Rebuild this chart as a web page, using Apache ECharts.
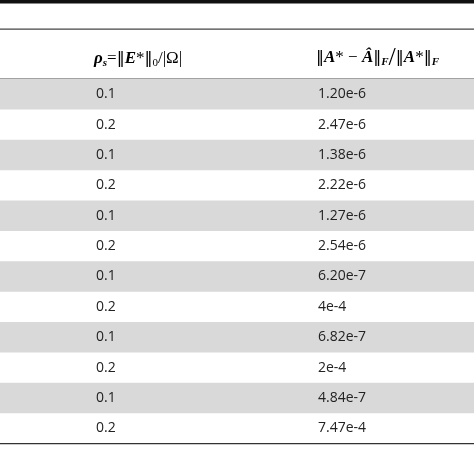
<!DOCTYPE html>
<html><head><meta charset="utf-8">
<script src="https://cdn.jsdelivr.net/npm/echarts@6/dist/echarts.min.js"></script>
<style>html,body{margin:0;padding:0;background:#fff}#c{width:474px;height:474px}</style>
</head><body><div id="c"></div>
<script>
const rhoValues = ['0.1','0.2','0.1','0.2','0.1','0.2','0.1','0.2','0.1','0.2','0.1','0.2'];
const errorValues = ['1.20e-6','2.47e-6','1.38e-6','2.22e-6','1.27e-6','2.54e-6','6.20e-7','4e-4','6.82e-7','2e-4','4.84e-7','7.47e-4'];
const rowIndex = rhoValues.map((_, i) => String(i));

const chart = echarts.init(document.getElementById('c'));
const font = '"Open Sans", "Noto Sans", sans-serif';
const mathRich = {
  i: {fontFamily: 'Liberation Serif', fontStyle: 'italic', fontWeight: 'bold', fontSize: 17, color: '#222'},
  n: {fontFamily: 'Liberation Serif', fontSize: 17, color: '#222'},
  bar: {fontFamily: 'DejaVu Sans', fontSize: 16, color: '#222'},
  s: {fontFamily: 'Liberation Serif', fontStyle: 'italic', fontWeight: 'bold', fontSize: 11, color: '#222', padding: [9, 0, 0, 0]},
  s0: {fontFamily: 'Liberation Serif', fontSize: 11, color: '#222', padding: [9, 0, 0, 0]},
  big: {fontFamily: 'Liberation Serif', fontSize: 26, color: '#222'}
};
chart.setOption({
  animation: false,
  grid: {left: 0, right: 0, top: 79, bottom: 30.5},
  xAxis: {type: 'value', min: 0, max: 474, show: false},
  yAxis: {type: 'category', data: rowIndex, inverse: true, show: false},
  graphic: [
    {type: 'rect', shape: {x: 0, y: 0, width: 474, height: 3.5}, style: {fill: '#111'}},
    {type: 'rect', shape: {x: 0, y: 28.5, width: 474, height: 1.2}, style: {fill: '#444'}},
    {type: 'rect', shape: {x: 0, y: 78.5, width: 474, height: 1.2}, style: {fill: '#444'}},
    {type: 'rect', shape: {x: 0, y: 443, width: 474, height: 1.3}, style: {fill: '#333'}},
    {type: 'text', left: 94, top: 50, style: {
      text: '{i|ρ}{s|s}{n|=}{bar|‖}{i|E}{n|*}{bar|‖}{s0|0}{n|/|Ω|}', rich: mathRich}},
    {type: 'text', left: 316, top: 45, style: {
      text: '{bar|‖}{i|A}{n|* − }{i|Â}{bar|‖}{s|F}{big|/}{bar|‖}{i|A}{n|*}{bar|‖}{s|F}', rich: mathRich}}
  ],
  series: [{
    type: 'custom',
    coordinateSystem: 'cartesian2d',
    data: rowIndex.map((r, i) => [i, r]),
    encode: {x: 0, y: 1},
    renderItem: function (params, api) {
      const i = api.value(0);
      const c = api.coord([0, rowIndex[i]]);
      const h = api.size([0, 1])[1];
      const children = [];
      if (i % 2 === 0) {
        children.push({type: 'rect', shape: {x: 0, y: c[1] - h / 2, width: 474, height: h}, style: {fill: '#d9d9d9'}});
      }
      children.push({type: 'text', style: {text: rhoValues[i], x: api.coord([96, 0])[0], y: c[1], verticalAlign: 'middle', font: '14px ' + font, fill: '#222'}});
      children.push({type: 'text', style: {text: errorValues[i], x: api.coord([318, 0])[0], y: c[1], verticalAlign: 'middle', font: '14px ' + font, fill: '#222'}});
      return {type: 'group', children: children};
    }
  }]
});
</script></body></html>
